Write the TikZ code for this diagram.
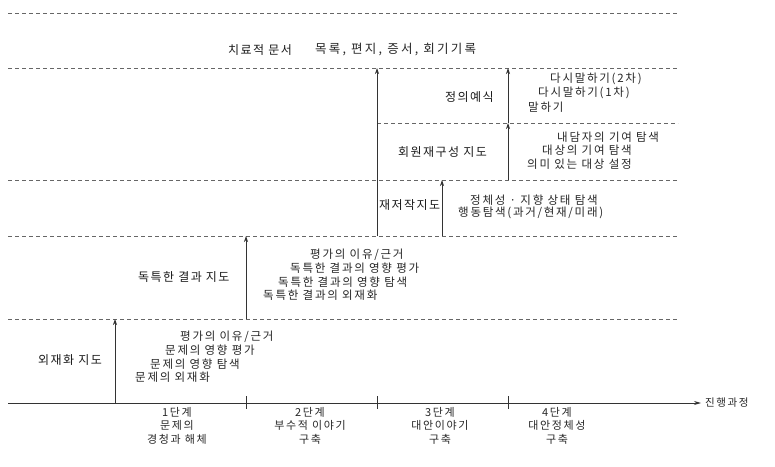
\documentclass[tikz,border=0pt]{standalone}
\usepackage{fontspec}
\newfontfamily\kr{Noto Sans CJK KR}[LetterSpace=15]
\newfontfamily\krt{Noto Sans CJK KR}[LetterSpace=12]
\newfontfamily\krw{Noto Sans CJK KR}[LetterSpace=18]
\usetikzlibrary{arrows.meta}
\tikzset{
  lvl/.style={draw=black!60, line width=0.6pt, dash pattern=on 4pt off 3pt},
  up/.style={draw=black!80, line width=0.7pt, -{Stealth[length=6pt,width=4pt]}},
  txt/.style={font=\kr\fontsize{11.5}{12}\selectfont, text=black!85, inner sep=0pt, anchor=west},
  ttl/.style={font=\krt\fontsize{12}{13}\selectfont, text=black!90, inner sep=0pt},
  stg/.style={font=\kr\fontsize{11}{13.5}\selectfont, text=black!85, inner sep=0pt, align=center, anchor=north},
  tick/.style={draw=black!80, line width=0.7pt}
}
\begin{document}
\begin{tikzpicture}[x=1pt,y=-1pt]
\useasboundingbox (0,0) rectangle (775,466);
% level lines
\coordinate (L0a) at (8,13);   \coordinate (L0b) at (678,13);
\coordinate (L1a) at (8,68);   \coordinate (L1b) at (678,68);
\coordinate (L2a) at (377,123);\coordinate (L2b) at (678,123);
\coordinate (L3a) at (8,180);  \coordinate (L3b) at (678,180);
\coordinate (L4a) at (8,236);  \coordinate (L4b) at (678,236);
\coordinate (L5a) at (8,319);  \coordinate (L5b) at (678,319);
\foreach \i in {0,...,5} \draw[lvl] (L\i a) -- (L\i b);
% axis
\coordinate (ax0) at (8,403);
\coordinate (ax1) at (701,403);
\draw[draw=black!80, line width=0.8pt, -{Stealth[length=7pt,width=4pt]}] (ax0) -- (ax1);
\node[txt, font=\kr\fontsize{10.5}{12}\selectfont] (prog) at (705,403) {진행과정};
% ticks
\foreach \n/\x in {t2/246,t3/377,t4/508}{
  \coordinate (\n a) at (\x,396); \coordinate (\n b) at (\x,409);
  \draw[tick] (\n a) -- (\n b);
}
% arrows
\coordinate (a1s) at (115,403); \coordinate (a1e) at (115,319);
\coordinate (a2s) at (246,319); \coordinate (a2e) at (246,236);
\coordinate (a3s) at (377,236); \coordinate (a3e) at (377,68);
\coordinate (a4s) at (442,236); \coordinate (a4e) at (442,180);
\coordinate (a5s) at (508,180); \coordinate (a5m) at (508,123);
\coordinate (a5e) at (508,68);
\draw[up] (a1s) -- (a1e);
\draw[up] (a2s) -- (a2e);
\draw[up] (a3s) -- (a3e);
\draw[up] (a4s) -- (a4e);
\draw[up] (a5s) -- (a5m);
\draw[up] (a5m) -- (a5e);
% top
\node[ttl, anchor=west] (doc) at (228,50) {치료적 문서};
\node[txt, font=\krw\fontsize{12.5}{13}\selectfont] (docl) at (315,50) {목록, 편지, 증서, 회기기록};
% definitional ceremony
\node[ttl, anchor=west] (cer) at (445,97) {정의예식};
\node[txt] (c1) at (550,79) {다시말하기(2차)};
\node[txt] (c2) at (538,93) {다시말하기(1차)};
\node[txt] (c3) at (528,107) {말하기};
% remembering
\node[ttl, anchor=west] (rem) at (398,152) {회원재구성 지도};
\node[txt] (r1) at (557,137) {내담자의 기여 탐색};
\node[txt] (r2) at (542,150) {대상의 기여 탐색};
\node[txt] (r3) at (527,164) {의미 있는 대상 설정};
% re-authoring
\node[ttl, anchor=west] (rea) at (379,205) {재저작지도};
\node[txt] (ra1) at (470,200) {정체성 · 지향 상태 탐색};
\node[txt] (ra2) at (458,213) {행동탐색(과거/현재/미래)};
% unique outcomes
\node[ttl, anchor=west] (uo) at (138,277) {독특한 결과 지도};
\node[txt] (u1) at (310,255) {평가의 이유/근거};
\node[txt] (u2) at (290,268) {독특한 결과의 영향 평가};
\node[txt] (u3) at (278,282) {독특한 결과의 영향 탐색};
\node[txt] (u4) at (263,295) {독특한 결과의 외재화};
% externalising
\node[ttl, anchor=west] (ext) at (38,360) {외재화 지도};
\node[txt] (e1) at (180,337) {평가의 이유/근거};
\node[txt] (e2) at (165,350) {문제의 영향 평가};
\node[txt] (e3) at (150,364) {문제의 영향 탐색};
\node[txt] (e4) at (135,377) {문제의 외재화};
% stages
\node[stg] (s1) at (177,407) {1단계\\문제의\\경청과 해체};
\node[stg] (s2) at (310,407) {2단계\\부수적 이야기\\구축};
\node[stg] (s3) at (440,407) {3단계\\대안이야기\\구축};
\node[stg] (s4) at (557,407) {4단계\\대안정체성\\구축};
\end{tikzpicture}
\end{document}
